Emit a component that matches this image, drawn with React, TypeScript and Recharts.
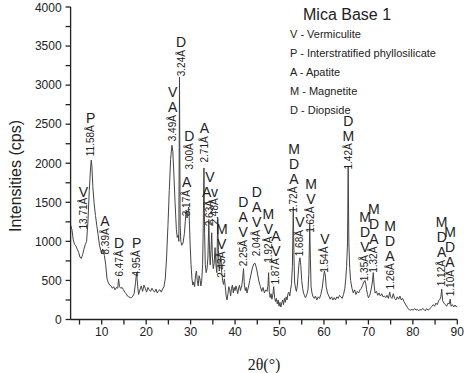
import { ComposedChart, Line, Scatter, XAxis, YAxis } from "recharts";

// XRD scan: [2θ (deg), intensity (cps)]
const scan: [number, number][] = [
  [3.0, 1210], [3.3, 1150], [3.6, 1020], [3.9, 960], [4.2, 940], [4.5, 900], [4.8, 860],
  [5.1, 800], [5.4, 780], [5.7, 830], [6.0, 900], [6.3, 960], [6.6, 1000], [6.9, 1250],
  [7.2, 1650], [7.5, 1950], [7.65, 2040], [7.8, 1960], [8.0, 1700], [8.3, 1480], [8.6, 1330],
  [8.9, 1200], [9.2, 1080], [9.5, 950], [9.8, 880], [10.0, 840], [10.2, 900], [10.4, 870],
  [10.6, 820], [10.9, 700], [11.2, 520], [11.5, 470], [11.8, 440], [12.1, 430], [12.4, 400],
  [12.7, 420], [13.0, 380], [13.3, 410], [13.6, 400], [13.8, 520], [14.0, 420], [14.3, 400],
  [14.6, 410], [14.9, 380], [15.2, 350], [15.5, 330], [15.8, 300], [16.1, 290], [16.4, 280],
  [16.7, 280], [17.0, 300], [17.3, 330], [17.6, 470], [17.85, 600], [18.1, 420], [18.3, 320],
  [18.6, 380], [18.9, 430], [19.2, 360], [19.5, 440], [19.8, 400], [20.1, 350], [20.4, 410],
  [20.7, 380], [21.0, 360], [21.3, 400], [21.6, 370], [21.9, 350], [22.2, 390], [22.5, 340],
  [22.8, 370], [23.1, 380], [23.4, 350], [23.7, 390], [24.0, 420], [24.3, 520], [24.6, 800],
  [24.9, 1200], [25.2, 1650], [25.5, 2050], [25.8, 2230], [26.0, 2150], [26.2, 1900],
  [26.5, 1500], [26.8, 1150], [27.0, 1050], [27.2, 1080], [27.35, 1000], [27.5, 3100],
  [27.65, 1200], [27.8, 1000], [28.0, 950], [28.3, 980], [28.6, 1100], [28.8, 1250],
  [29.0, 1400], [29.2, 1300], [29.4, 1380], [29.55, 1440], [29.7, 1300], [29.9, 950],
  [30.1, 700], [30.3, 520], [30.5, 440], [30.7, 480], [30.9, 420], [31.1, 560], [31.3, 620],
  [31.5, 500], [31.7, 430], [31.9, 560], [32.1, 520], [32.3, 430], [32.5, 500], [32.7, 700],
  [32.85, 1200], [33.0, 1940], [33.15, 1100], [33.3, 700], [33.5, 600], [33.7, 650],
  [33.9, 800], [34.1, 1280], [34.25, 900], [34.4, 700], [34.6, 900], [34.75, 1110],
  [34.9, 800], [35.1, 650], [35.3, 720], [35.5, 920], [35.7, 700], [35.9, 600], [36.1, 1300],
  [36.25, 900], [36.45, 620], [36.6, 700], [36.8, 810], [37.0, 600], [37.2, 500], [37.4, 450],
  [37.6, 520], [37.8, 420], [38.0, 300], [38.2, 250], [38.4, 330], [38.6, 420], [38.8, 380],
  [39.0, 300], [39.2, 400], [39.4, 440], [39.6, 340], [39.8, 410], [40.0, 370], [40.2, 430],
  [40.4, 390], [40.6, 330], [40.8, 400], [41.0, 440], [41.2, 370], [41.5, 430], [41.7, 520],
  [41.9, 650], [42.1, 440], [42.3, 370], [42.5, 410], [42.7, 340], [42.9, 390], [43.1, 440],
  [43.3, 500], [43.6, 580], [43.9, 660], [44.2, 710], [44.5, 720], [44.8, 660], [45.1, 570],
  [45.4, 480], [45.7, 420], [46.0, 360], [46.3, 410], [46.6, 340], [46.9, 380], [47.2, 360],
  [47.4, 430], [47.55, 600], [47.7, 360], [47.9, 280], [48.1, 330], [48.3, 260], [48.5, 320],
  [48.7, 420], [48.9, 280], [49.1, 230], [49.3, 270], [49.5, 200], [49.7, 250], [49.9, 170],
  [50.1, 220], [50.3, 160], [50.5, 210], [50.7, 250], [50.9, 190], [51.1, 270], [51.3, 220],
  [51.5, 290], [51.7, 250], [51.9, 330], [52.1, 350], [52.3, 300], [52.5, 380], [52.7, 460],
  [52.9, 680], [53.1, 1440], [53.25, 800], [53.4, 480], [53.6, 400], [53.8, 360], [54.0, 430],
  [54.2, 580], [54.4, 730], [54.6, 790], [54.8, 690], [55.0, 500], [55.2, 400], [55.4, 340],
  [55.6, 310], [55.8, 280], [56.0, 300], [56.2, 330], [56.4, 380], [56.6, 580], [56.8, 1220],
  [56.95, 780], [57.1, 420], [57.3, 340], [57.5, 300], [57.8, 270], [58.1, 300], [58.4, 250],
  [58.7, 290], [59.0, 270], [59.3, 320], [59.6, 400], [59.9, 540], [60.1, 620], [60.3, 570],
  [60.5, 420], [60.8, 340], [61.1, 300], [61.4, 260], [61.7, 290], [62.0, 250], [62.3, 280],
  [62.6, 250], [62.9, 290], [63.2, 270], [63.5, 310], [63.8, 290], [64.1, 270], [64.4, 320],
  [64.7, 400], [64.9, 520], [65.1, 680], [65.3, 980], [65.45, 1960], [65.6, 980], [65.8, 650],
  [66.0, 500], [66.3, 400], [66.6, 340], [66.9, 380], [67.2, 320], [67.5, 360], [67.8, 340],
  [68.1, 380], [68.4, 400], [68.7, 440], [69.0, 480], [69.2, 500], [69.4, 460], [69.6, 380],
  [69.8, 320], [70.0, 280], [70.3, 310], [70.6, 380], [70.9, 480], [71.1, 600], [71.3, 430],
  [71.5, 340], [71.8, 360], [72.1, 310], [72.4, 340], [72.7, 300], [73.0, 330], [73.3, 290],
  [73.6, 300], [73.9, 280], [74.2, 310], [74.5, 270], [74.8, 350], [75.0, 290], [75.3, 270],
  [75.6, 330], [75.9, 270], [76.2, 250], [76.5, 290], [76.8, 260], [77.1, 300], [77.4, 250],
  [77.7, 270], [78.0, 230], [78.3, 200], [78.6, 170], [78.9, 140], [79.2, 125], [79.5, 120],
  [79.8, 130], [80.1, 120], [80.4, 140], [80.7, 120], [81.0, 130], [81.3, 110], [81.6, 130],
  [81.9, 120], [82.2, 140], [82.5, 130], [82.8, 110], [83.1, 140], [83.4, 120], [83.7, 130],
  [84.0, 150], [84.3, 170], [84.6, 190], [84.9, 170], [85.2, 210], [85.5, 190], [85.8, 240],
  [86.1, 260], [86.3, 290], [86.5, 390], [86.7, 240], [87.0, 210], [87.3, 190], [87.6, 170],
  [87.9, 210], [88.2, 200], [88.4, 260], [88.6, 170], [88.9, 190], [89.2, 160], [89.5, 185],
  [89.8, 160], [90.0, 175],
];

// peak annotations: position (2θ), base of the d-spacing text (cps), phases (top to bottom), d-spacing
const peakAt = [5.86, 7.52, 10.74, 13.89, 17.87, 25.97, 27.84, 29.12, 29.7, 33.08, 34.36, 35.37,
  37.0, 41.85, 44.87, 47.48, 49.2, 53.26, 54.61, 57.08, 60.23, 65.47, 69.23, 71.25, 74.86, 86.49, 88.36];
const labelBase = [1152, 2090, 832, 550, 550, 2282, 3114, 1322, 1920, 2010, 1194, 1216,
  534, 682, 810, 726, 448, 1366, 810, 1110, 598, 1920, 490, 598, 384, 426, 298];
const phases = [["V"], ["P"], ["A"], ["D"], ["P"], ["V", "A"], ["D"], ["A"], ["D"], ["A"], ["V", "Av"], [],
  ["M", "V"], ["D", "A", "V"], ["D", "A", "V"], ["M", "V"], ["A", "V"], ["M", "D", "A"], ["V"], ["M", "V"],
  ["V"], ["D", "M"], ["M", "D", "V"], ["M", "D", "A"], ["M", "D", "A"], ["M", "D", "A"], ["M", "D", "A"]];
const dSpacing = ["13.71Å", "11.58Å", "8.39Å", "6.47Å", "4.95Å", "3.49Å", "3.24Å", "3.17Å", "3.00Å",
  "2.71Å", "2.63Å", "2.48Å", "2.43Å", "2.25Å", "2.04Å", "1.92Å", "1.87Å", "1.72Å", "1.68Å", "1.62Å",
  "1.54Å", "1.42Å", "1.35Å", "1.32Å", "1.26Å", "1.12Å", "1.10Å"];

const legendTitle = "Mica Base 1";
const legendItems = ["V - Vermiculite", "P - Interstratified phyllosilicate", "A - Apatite", "M - Magnetite", "D - Diopside"];

const xTicks = [5, 10, 15, 20, 25, 30, 35, 40, 45, 50, 55, 60, 65, 70, 75, 80, 85, 90];
const yTicks = [0, 250, 500, 750, 1000, 1250, 1500, 1750, 2000, 2250, 2500, 2750, 3000, 3250, 3500, 3750, 4000];

const scanData = scan.map(([x, y]) => ({ x, y }));
const labelData = peakAt.map((x, i) => ({ x, y: labelBase[i], letters: phases[i], d: dSpacing[i] }));

const FONT = '"Liberation Sans", Arial, sans-serif';

const PeakLabel = (props: any) => {
  const { cx, cy, payload } = props;
  if (cx == null || cy == null) return <g />;
  const dLen = payload.d.length > 5 ? 31 : 27;
  const top = cy - dLen;
  const n = payload.letters.length;
  return (
    <g>
      <text
        x={cx}
        y={cy}
        transform={`rotate(-90, ${cx}, ${cy})`}
        textAnchor="start"
        dominantBaseline="central"
        fontSize={10}
        fontFamily={FONT}
        fill="#222"
      >
        {payload.d}
      </text>
      {payload.letters.map((l: string, i: number) => (
        <text
          key={i}
          x={cx}
          y={top - 7 - (n - 1 - i) * 15}
          textAnchor="middle"
          dominantBaseline="central"
          fontSize={14}
          fontFamily={FONT}
          fill="#222"
        >
          {l}
        </text>
      ))}
    </g>
  );
};

export default function App() {
  return (
    <div style={{ position: "absolute", left: 0, top: 0, width: 474, height: 373, background: "#fff" }}>
      <ComposedChart
        width={474}
        height={373}
        margin={{ top: 7, right: 16.7, bottom: 0, left: 0 }}
      >
        <XAxis
          type="number"
          dataKey="x"
          domain={[3, 90]}
          allowDataOverflow
          ticks={xTicks}
          tickFormatter={(v: number) => (v % 10 === 0 ? String(v) : "")}
          height={53.5}
          tickSize={5}
          tickMargin={3}
          stroke="#222"
          strokeWidth={1.3}
          tick={{ fill: "#222", fontSize: 12, fontFamily: FONT }}
        />
        <YAxis
          type="number"
          dataKey="y"
          domain={[0, 4000]}
          allowDataOverflow
          ticks={yTicks}
          tickFormatter={(v: number) => (v % 500 === 0 ? String(v) : "")}
          width={70.6}
          tickSize={5}
          tickMargin={4}
          stroke="#222"
          strokeWidth={1.3}
          tick={{ fill: "#222", fontSize: 12, fontFamily: FONT }}
        />
        <Line
          data={scanData}
          dataKey="y"
          type="linear"
          stroke="#444"
          strokeWidth={1}
          dot={false}
          isAnimationActive={false}
        />
        <Scatter data={labelData} dataKey="y" shape={PeakLabel} isAnimationActive={false} />
      </ComposedChart>
      <svg
        width={474}
        height={373}
        style={{ position: "absolute", left: 0, top: 0, pointerEvents: "none" }}
      >
        <text
          x={15}
          y={176}
          transform="rotate(-90, 15, 176)"
          textAnchor="middle"
          dominantBaseline="central"
          fontSize={16}
          fontFamily={FONT}
          fill="#222"
        >
          Intensities (cps)
        </text>
        <text
          x={264}
          y={364}
          textAnchor="middle"
          dominantBaseline="central"
          fontSize={16}
          fontFamily='"Liberation Serif", "Times New Roman", serif'
          fill="#222"
        >
          2θ(°)
        </text>
        <text x={303} y={14} dominantBaseline="central" fontSize={16} fontFamily={FONT} fill="#222">
          {legendTitle}
        </text>
        {legendItems.map((t, i) => (
          <text
            key={t}
            x={290}
            y={33.5 + i * 19.2}
            dominantBaseline="central"
            fontSize={11}
            fontFamily={FONT}
            fill="#222"
          >
            {t}
          </text>
        ))}
      </svg>
    </div>
  );
}
